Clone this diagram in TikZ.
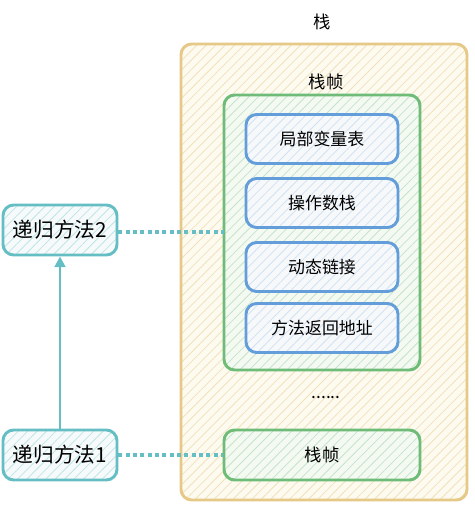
\documentclass[tikz,border=0pt]{standalone}
\usepackage{fontspec}
\setmainfont{Noto Sans CJK SC}
\usetikzlibrary{patterns.meta,arrows.meta}
\definecolor{stackc}{RGB}{230,200,135}
\definecolor{stackf}{RGB}{253,250,240}
\definecolor{frmc}{RGB}{110,188,120}
\definecolor{frmf}{RGB}{244,249,242}
\definecolor{itemc}{RGB}{100,158,218}
\definecolor{itemf}{RGB}{246,248,250}
\definecolor{methc}{RGB}{100,190,196}
\definecolor{methf}{RGB}{246,250,250}
\tikzset{
  hatch/.style={pattern={Lines[angle=45,distance=5pt,line width=0.6pt]},pattern color=#1},
  stackbox/.style={draw=stackc,line width=2.2pt,rounded corners=8pt,preaction={fill=stackf},hatch=stackc!55},
  framebox/.style={draw=frmc,line width=2.2pt,rounded corners=8pt,preaction={fill=frmf},hatch=frmc!40},
  itembox/.style={draw=itemc,line width=2.2pt,rounded corners=8pt,preaction={fill=itemf},hatch=itemc!30,font=\fontsize{12.7pt}{14pt}\selectfont},
  methbox/.style={draw=methc,line width=2.2pt,rounded corners=8pt,preaction={fill=methf},hatch=methc!40,font=\fontsize{15.5pt}{17pt}\selectfont},
  lbl/.style={font=\fontsize{13pt}{15pt}\selectfont},
  link/.style={draw=methc,line width=3pt,dash pattern=on 3pt off 2.5pt},
}
\begin{document}
\begin{tikzpicture}[x=0.75pt,y=-0.75pt]
\useasboundingbox (0,0) rectangle (474,506);
% stack
\node[lbl] (stacklbl) at (322,22) {栈};
\draw[stackbox] (181,44) rectangle (467,500);
% frame
\node[lbl] (framelbl) at (326,82) {栈帧};
\draw[framebox] (224,95) rectangle (420,370);
\node[itembox,minimum width=152*0.75pt,minimum height=49*0.75pt] (i1) at (322,139) {局部变量表};
\node[itembox,minimum width=152*0.75pt,minimum height=49*0.75pt] (i2) at (322,203) {操作数栈};
\node[itembox,minimum width=152*0.75pt,minimum height=49*0.75pt] (i3) at (322,267) {动态链接};
\node[itembox,minimum width=152*0.75pt,minimum height=49*0.75pt] (i4) at (322,328) {方法返回地址};
\coordinate (frameL) at (224,232);
\node[lbl] (dots) at (326,398) {......};
\node[framebox,lbl,minimum width=196*0.75pt,minimum height=50*0.75pt] (f2) at (322,455) {栈帧};
% methods
\node[methbox,minimum width=114*0.75pt,minimum height=50*0.75pt,inner sep=0pt] (m2) at (60,230) {递归方法2};
\node[methbox,minimum width=114*0.75pt,minimum height=50*0.75pt,inner sep=0pt] (m1) at (60,455) {递归方法1};
\draw[draw=methc,line width=2.2pt,-{Triangle[length=8pt,width=8pt]}] (m1.north) -- (m2.south);
\draw[link] (m2.east |- 0,232) -- (frameL);
\draw[link] (m1.east) -- (f2.west);
\end{tikzpicture}
\end{document}
